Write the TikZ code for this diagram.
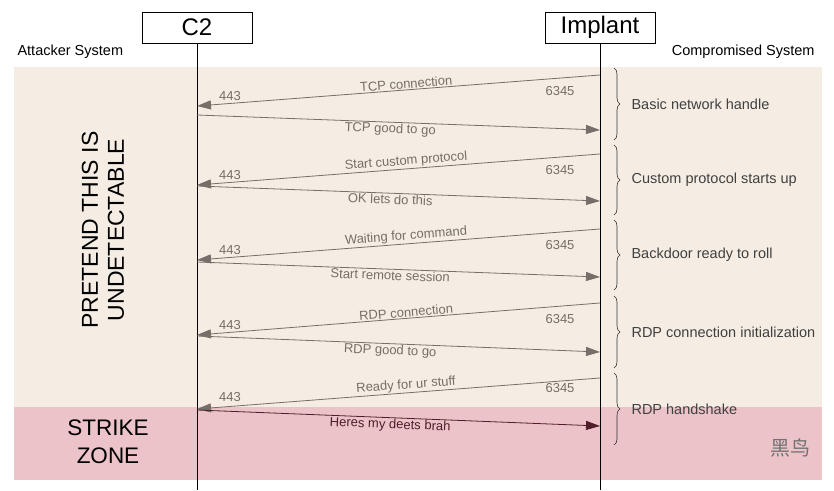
\documentclass[tikz,border=0pt]{standalone}
\usepackage{fontspec}
\setmainfont{Liberation Sans}
\newfontfamily\cjkf{Noto Sans CJK SC}
\usetikzlibrary{arrows.meta,decorations.pathreplacing}
\definecolor{beige}{RGB}{245,237,227}
\definecolor{pinkz}{RGB}{235,195,200}
\definecolor{msg}{RGB}{118,110,104}
\definecolor{dark}{RGB}{80,30,40}
\begin{document}
\begin{tikzpicture}[x=1pt,y=-1pt,
  lbl/.style={font=\fontsize{13}{15}\selectfont,text=msg,inner sep=1pt},
  arr/.style={draw=msg,line width=0.8pt,-{Triangle[length=14pt,width=9pt]}},
  brc/.style={draw=black!80,line width=0.6pt,decorate,decoration={brace,amplitude=6pt}},
  side/.style={font=\fontsize{14.5}{17}\selectfont,text=black!75,anchor=west},
  box/.style={draw,line width=0.8pt,minimum width=110pt,minimum height=31pt,font=\fontsize{24}{26}\selectfont,fill=white}]
\useasboundingbox (0,0) rectangle (834,490);
\fill[white] (0,0) rectangle (834,490);
\fill[beige] (14,67) rectangle (822,407);
\fill[pinkz] (14,407) rectangle (822,480);
\node[box] (c2) at (197,27.5) {C2};
\node[box] (imp) at (600,27.5) {Implant};
\coordinate (c2e) at (197,490);
\coordinate (impe) at (600,490);
\draw[line width=0.8pt] (c2) -- (c2e);
\draw[line width=0.8pt] (imp) -- (impe);
\node[font=\fontsize{14.5}{17}\selectfont,anchor=west] (as) at (14,52) {Attacker System};
\node[font=\fontsize{14.5}{17}\selectfont,anchor=east] (cs) at (818,52) {Compromised System};
\node[font=\fontsize{23}{26}\selectfont,rotate=90,align=center] (pt) at (103,230) {PRETEND THIS IS\\UNDETECTABLE};
\node[font=\fontsize{22.5}{28}\selectfont,align=center] (sz) at (108,442) {STRIKE\\ZONE};
\foreach \i/\ya/\yb/\yc/\yd/\ta/\tb in {
 1/75/106/115/130/TCP connection/TCP good to go,
 2/154/185/186/201/Start custom protocol/OK lets do this,
 3/229/260/262/277/Waiting for command/Start remote session,
 4/303/335/336/352/RDP connection/RDP good to go}{
 \coordinate (a\i) at (600,\ya); \coordinate (b\i) at (197,\yb);
 \coordinate (c\i) at (197,\yc); \coordinate (d\i) at (600,\yd);
 \draw[arr] (a\i) -- node[lbl,sloped,above,pos=0.48]{\ta} (b\i);
 \draw[arr] (c\i) -- node[lbl,sloped,below,pos=0.48]{\tb} (d\i);
 \node[lbl] at (230,\yb-10) {443};
 \node[lbl] at (560,\ya+16) {6345};
}
\coordinate (a5) at (600,378); \coordinate (b5) at (197,409);
\coordinate (c5) at (197,410); \coordinate (d5) at (600,426);
\draw[arr] (a5) -- node[lbl,sloped,above,pos=0.48]{Ready for ur stuff} (b5);
\draw[arr,draw=dark] (c5) -- node[lbl,sloped,below,pos=0.48,text=dark]{Heres my deets brah} (d5);
\node[lbl] at (230,397) {443};
\node[lbl] at (560,388) {6345};
\foreach \ya/\yb/\t in {68/140/Basic network handle,145/215/Custom protocol starts up,220/290/Backdoor ready to roll,296/368/RDP connection initialization,373/445/RDP handshake}{
 \draw[brc] (614,\ya) -- (614,\yb);
 \node[side] at (628,{(\ya+\yb)/2}) {\t};
}
\node[font=\cjkf\fontsize{20}{22}\selectfont,text=black!55] (wm) at (790,448) {黑鸟};
\end{tikzpicture}
\end{document}
